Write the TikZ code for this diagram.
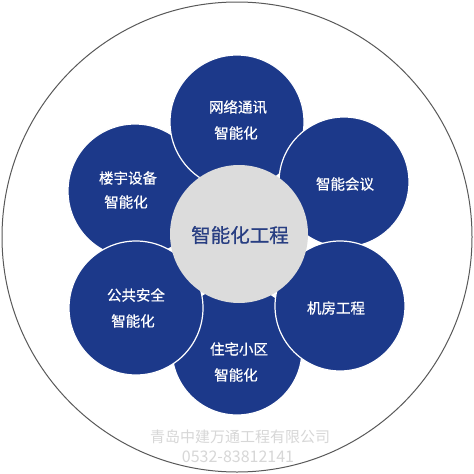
\documentclass[tikz,border=0pt]{standalone}
\usepackage{fontspec}
\newfontfamily\cjk{Noto Sans CJK SC}
\newfontfamily\cjkm{Noto Sans CJK SC}[FakeBold=0.6]
\definecolor{petal}{RGB}{28,57,138}
\definecolor{hub}{RGB}{220,220,220}
\definecolor{hubtext}{RGB}{40,62,130}
\definecolor{wm}{RGB}{215,215,215}
\begin{document}
\begin{tikzpicture}[x=1pt,y=-1pt,
  petalnode/.style={circle,fill=petal,draw=white,line width=1.2pt,inner sep=0pt},
  petaltext/.style={text=white,font=\cjkm\fontsize{14.5}{19}\selectfont,align=center,inner sep=0pt},
  hubnode/.style={circle,fill=hub,inner sep=0pt,minimum size=138pt},
  wmtext/.style={text=wm,font=\cjk\fontsize{15}{17}\selectfont,inner sep=0pt}]
\useasboundingbox (0,0) rectangle (474,474);
\fill[white] (0,0) rectangle (474,474);
\node[circle,draw=black!65,line width=1pt,minimum size=470pt,inner sep=0pt] (outer) at (237,237) {};
% petals
\node[petalnode,minimum size=134pt] (ul) at (135,191) {};
\node[petalnode,minimum size=134pt] (top) at (237,122) {};
\node[petalnode,minimum size=130pt] (ur) at (344,182) {};
\node[petalnode,minimum size=130pt] (bot) at (237,350) {};
\node[petalnode,minimum size=134pt] (ll) at (136,308) {};
\node[petalnode,minimum size=130pt] (lr) at (340,306) {};
% hub
\node[hubnode] (hub) at (239,234) {};
\node[text=hubtext,font=\cjkm\fontsize{19.5}{22}\selectfont,inner sep=0pt] (hubt) at (240,235) {智能化工程};
% petal labels
\node[petaltext] (t1a) at (238,107) {网络通讯};
\node[petaltext] (t1b) at (236,133) {智能化};
\node[petaltext] (t2) at (345,184) {智能会议};
\node[petaltext] (t3) at (336,308) {机房工程};
\node[petaltext] (t4a) at (239,349) {住宅小区};
\node[petaltext] (t4b) at (236,375) {智能化};
\node[petaltext] (t5a) at (136,295) {公共安全};
\node[petaltext] (t5b) at (133,321) {智能化};
\node[petaltext] (t6a) at (128,178) {楼宇设备};
\node[petaltext] (t6b) at (126,202) {智能化};
% watermark
\node[wmtext] (wm1) at (240,437) {青岛中建万通工程有限公司};
\node[wmtext,font=\cjk\fontsize{16}{18}\selectfont] (wm2) at (238,457) {0532-83812141};
\end{tikzpicture}
\end{document}
